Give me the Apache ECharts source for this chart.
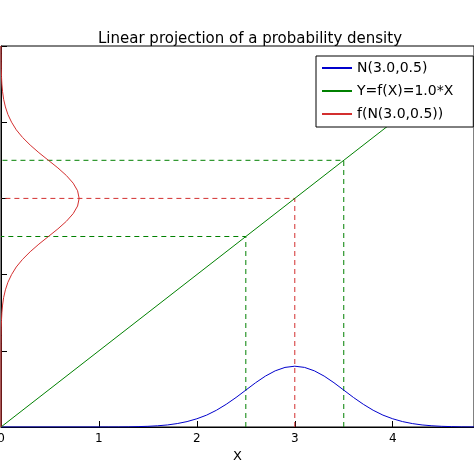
<!DOCTYPE html><html><head><meta charset="utf-8"><script src="https://cdn.jsdelivr.net/npm/echarts@6/dist/echarts.min.js"></script>
<style>html,body{margin:0;padding:0;background:#fff}#c{width:474px;height:474px}</style></head><body><div id="c"></div><script>
const xs=[0,1.0,1.1,1.2,1.3,1.4,1.5,1.6,1.7,1.8,1.9,2.0,2.1,2.2,2.3,2.4,2.5,2.6,2.7,2.8,2.9,3.0,3.1,3.2,3.3,3.4,3.5,3.6,3.7,3.8,3.9,4.0,4.1,4.2,4.3,4.4,4.5,4.6,4.7,4.8,4.9,5.0];
const dens=[0,0.0003,0.0006,0.001,0.002,0.005,0.009,0.016,0.027,0.045,0.071,0.108,0.156,0.220,0.298,0.387,0.484,0.581,0.668,0.737,0.782,0.798,0.782,0.737,0.668,0.581,0.484,0.387,0.298,0.220,0.156,0.108,0.071,0.045,0.027,0.016,0.009,0.005,0.002,0.001,0.0006,0.0003];
const xTicks=[0,1,2,3,4];
const proj=[2.5,3.0,3.5];
const names=['N(3.0,0.5)','Y=f(X)=1.0*X','f(N(3.0,0.5))'];
const blue='#0000cc',green='#008000',red='#d32f2f';
const series=[
 {name:names[0],type:'line',symbol:'none',data:xs.map((x,i)=>[x,dens[i]]),lineStyle:{color:blue,width:1},itemStyle:{color:blue},z:3},
 {name:names[1],type:'line',symbol:'none',data:[[0,0],[5,5]],lineStyle:{color:green,width:1},itemStyle:{color:green},z:3},
 {name:names[2],type:'line',symbol:'none',data:xs.map((x,i)=>[dens[i],x]),lineStyle:{color:red,width:1},itemStyle:{color:red},z:3}
];
proj.forEach(p=>{
 const c=p===3?red:green;
 series.push({type:'line',symbol:'none',data:[[p,0],[p,p],[0,p]],lineStyle:{color:c,width:1,type:[5,4]},z:2});
});
const chart=echarts.init(document.getElementById('c'));
chart.setOption({animation:false,
 title:{text:'Linear projection of a probability density',left:245,top:27,textAlign:'center',textStyle:{fontFamily:'DejaVu Sans',fontSize:15,fontWeight:'normal',color:'#000'}},
 grid:{left:1,right:0,top:46,bottom:47,containLabel:false,outerBoundsMode:'none',show:true,borderColor:'#000',borderWidth:1,backgroundColor:'transparent'},
 legend:{data:names,orient:'vertical',left:316,top:56,itemWidth:30,itemHeight:2,itemGap:9,icon:'rect',padding:[5,20,6,6],
  borderColor:'#000',borderWidth:1,backgroundColor:'#fff',textStyle:{fontFamily:'DejaVu Sans',fontSize:14,color:'#000'}},
 xAxis:{type:'value',min:0,max:4.83,interval:1,name:'X',nameLocation:'middle',nameGap:22,nameTextStyle:{fontFamily:'DejaVu Sans',fontSize:13,color:'#000'},
  axisLine:{lineStyle:{color:'#000'}},axisTick:{inside:true,length:6,lineStyle:{color:'#000'}},splitLine:{show:false},
  axisLabel:{fontFamily:'DejaVu Sans',fontSize:12,color:'#000',margin:6,formatter:v=>xTicks.includes(v)?String(v):''}},
 yAxis:{type:'value',min:0,max:5,interval:1,axisLine:{show:true,lineStyle:{color:'#000'}},axisTick:{inside:true,length:6,lineStyle:{color:'#000'}},splitLine:{show:false},axisLabel:{show:false}},
 series});
</script></body></html>
